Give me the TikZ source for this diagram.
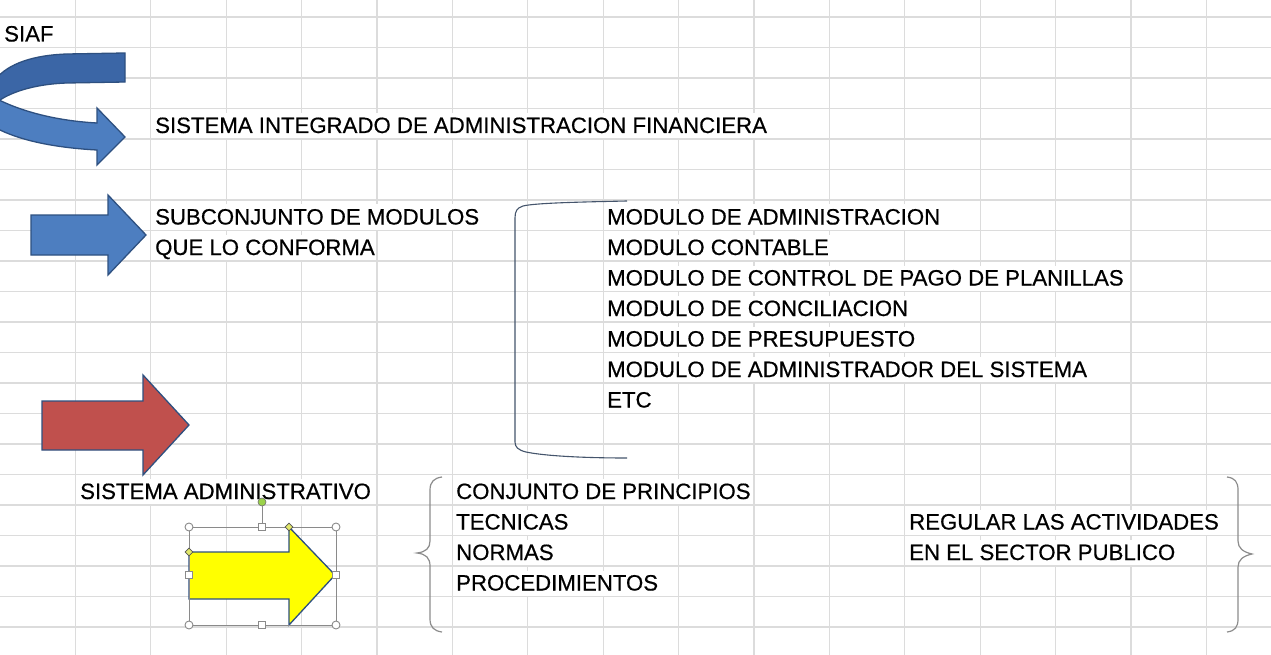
\documentclass[tikz,border=0pt]{standalone}
\usepackage{fontspec}
\setmainfont{Liberation Sans}[FakeBold=0.5]
\definecolor{gridc}{HTML}{DCDCDC}
\definecolor{blueL}{HTML}{4D7EC0}
\definecolor{blueD}{HTML}{3B66A6}
\definecolor{outl}{HTML}{2E5080}
\definecolor{redA}{HTML}{C0504D}
\definecolor{yelA}{HTML}{FFFF00}
\definecolor{brk}{HTML}{45556C}
\definecolor{brace}{HTML}{8C8C8C}
\definecolor{selc}{HTML}{8A8A8A}
\definecolor{rotc}{HTML}{9BD24A}
\definecolor{adjc}{HTML}{E2E86A}
\tikzset{
  gridline/.style={draw=gridc, line width=1.2pt},
  txt/.style={anchor=base west, inner xsep=1pt, inner ysep=0pt, fill=white,
    text height=20pt, text depth=5pt, font=\fontsize{22.2pt}{26pt}\selectfont},
  arrowshape/.style={draw=outl, line width=1.3pt, line join=miter},
  bracketline/.style={draw=brk, line width=1.1pt},
  braceline/.style={draw=brace, line width=1.2pt},
  selbox/.style={draw=selc, line width=1pt},
  cornerhandle/.style={circle, draw=selc, fill=white, line width=0.9pt, inner sep=0pt, minimum size=8pt},
  sidehandle/.style={rectangle, draw=selc, fill=white, line width=0.9pt, inner sep=0pt, minimum size=7pt},
  rothandle/.style={circle, draw=selc!80!black, fill=rotc, line width=0.6pt, inner sep=0pt, minimum size=8pt},
  adjhandle/.style={diamond, draw=selc!60!black, fill=adjc, line width=0.6pt, inner sep=0pt, minimum size=8pt},
}
\usetikzlibrary{shapes.geometric}
\begin{document}
\begin{tikzpicture}[x=1pt, y=-1pt]
\useasboundingbox (0,0) rectangle (1271,655);
\clip (0,0) rectangle (1271,655);
\fill[white] (0,0) rectangle (1271,655);
% grid
\foreach \i in {1,...,16} \draw[gridline] ({75.4*\i},0) -- ({75.4*\i},655);
\foreach \j in {0,...,20} \draw[gridline] (0,{17+30.5*\j}) -- (1271,{17+30.5*\j});

% texts
\node[txt] (siaf) at (3,41.5) {SIAF};
\node[txt] (sigaf) at (154,133) {SISTEMA INTEGRADO DE ADMINISTRACION FINANCIERA};
\node[txt] (sub1) at (154,224.5) {SUBCONJUNTO DE MODULOS};
\node[txt] (sub2) at (154,255) {QUE LO CONFORMA};
\node[txt] (m1) at (606,224.5) {MODULO DE ADMINISTRACION};
\node[txt] (m2) at (606,255) {MODULO CONTABLE};
\node[txt] (m3) at (606,285.5) {MODULO DE CONTROL DE PAGO DE PLANILLAS};
\node[txt] (m4) at (606,316) {MODULO DE CONCILIACION};
\node[txt] (m5) at (606,346.5) {MODULO DE PRESUPUESTO};
\node[txt] (m6) at (606,377) {MODULO DE ADMINISTRADOR DEL SISTEMA};
\node[txt] (m7) at (606,407.5) {ETC};
\node[txt] (sadm) at (79,499) {SISTEMA ADMINISTRATIVO};
\node[txt] (c1) at (455,499) {CONJUNTO DE PRINCIPIOS};
\node[txt] (c2) at (455,529.5) {TECNICAS};
\node[txt] (c3) at (455,560) {NORMAS};
\node[txt] (c4) at (455,590.5) {PROCEDIMIENTOS};
\node[txt] (r1) at (908,529.5) {REGULAR LAS ACTIVIDADES};
\node[txt] (r2) at (908,560) {EN EL SECTOR PUBLICO};

% curved (u-turn) arrow
\path[arrowshape, fill=blueD] (125,53) -- (67,54) .. controls (35,55) and (8,63) .. (-5,80)
  -- (-5,100) -- (0,100) .. controls (12,92) and (35,84) .. (67,83) -- (125,82) -- cycle;
\path[arrowshape, fill=blueL] (-3,99) .. controls (25,113) and (60,121) .. (97,123)
  -- (97,108) -- (125,137) -- (97,165) -- (97,150)
  .. controls (60,148) and (25,142) .. (0,130) -- (-5,127) -- cycle;

% straight blue arrow
\path[arrowshape, fill=blueL] (31,215) -- (108,215) -- (108,195) -- (146,235) -- (108,275) -- (108,255) -- (31,255) -- cycle;

% red arrow
\path[arrowshape, fill=redA] (42,401) -- (143,401) -- (143,375) -- (189,425) -- (143,475) -- (143,450) -- (42,450) -- cycle;

% yellow arrow
\path[arrowshape, fill=yelA] (189,552) -- (289,552) -- (289,527) -- (335,575) -- (289,625) -- (289,599) -- (189,599) -- cycle;

% selection frame of the yellow arrow
\draw[selbox] (189,527) rectangle (336,625);
\node[sidehandle] (hT) at (262,527) {};
\node[rothandle] (hR) at (262,502) {};
\draw[selc, line width=0.9pt] (hR) -- (hT);
\node[cornerhandle] (hTL) at (189,527) {};
\node[cornerhandle] (hTR) at (336,527) {};
\node[cornerhandle] (hBL) at (189,625) {};
\node[cornerhandle] (hBR) at (336,625) {};
\node[sidehandle] (hB) at (262,625) {};
\node[sidehandle] (hL) at (189,575) {};
\node[sidehandle] (hRt) at (336,575) {};
\node[adjhandle] (a1) at (289,527) {};
\node[adjhandle] (a2) at (189,552) {};

% bracket around modules
\draw[bracketline] (627,201) .. controls (580,202) and (535,203) .. (523,206)
  .. controls (517,208) and (515,211) .. (515,218) -- (515,442)
  .. controls (515,447) and (518,450) .. (526,452)
  .. controls (545,456) and (585,458) .. (627,458);

% left curly brace
\draw[braceline] (442,477) .. controls (434,478) and (430,482) .. (430,490) -- (430,541)
  .. controls (430,548) and (426,552) .. (417,553)
  .. controls (426,554) and (430,558) .. (430,566) -- (430,619)
  .. controls (430,627) and (434,631) .. (442,632);

% right curly brace
\draw[braceline] (1227,477) .. controls (1235,478) and (1238,482) .. (1238,490) -- (1238,541)
  .. controls (1238,548) and (1243,552) .. (1252,554)
  .. controls (1243,556) and (1238,560) .. (1238,567) -- (1238,619)
  .. controls (1238,627) and (1235,631) .. (1227,632);
\end{tikzpicture}
\end{document}
